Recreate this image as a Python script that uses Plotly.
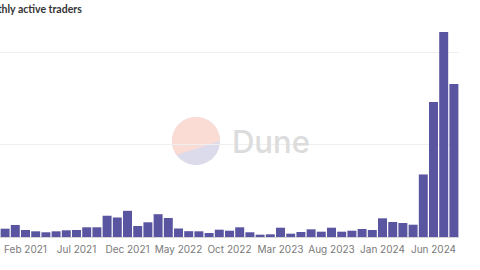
import numpy as np
import plotly.graph_objects as go

months = ["Dec 2020", "Jan 2021", "Feb 2021", "Mar 2021", "Apr 2021", "May 2021", "Jun 2021",
          "Jul 2021", "Aug 2021", "Sep 2021", "Oct 2021", "Nov 2021", "Dec 2021",
          "Jan 2022", "Feb 2022", "Mar 2022", "Apr 2022", "May 2022", "Jun 2022",
          "Jul 2022", "Aug 2022", "Sep 2022", "Oct 2022", "Nov 2022", "Dec 2022",
          "Jan 2023", "Feb 2023", "Mar 2023", "Apr 2023", "May 2023", "Jun 2023",
          "Jul 2023", "Aug 2023", "Sep 2023", "Oct 2023", "Nov 2023", "Dec 2023",
          "Jan 2024", "Feb 2024", "Mar 2024", "Apr 2024", "May 2024", "Jun 2024",
          "Jul 2024", "Aug 2024"]
traders = [900, 1300, 760, 615, 510, 615, 725, 760, 1050, 1050, 2300, 2110, 2830,
           1190, 1590, 2465, 2055, 920, 630, 615, 430, 790, 680, 1050, 510,
           250, 290, 1005, 360, 540, 830, 575, 1005, 575, 680, 865, 760,
           2020, 1620, 1515, 1330, 6760, 14600, 22160, 16540]
tick_labels = ["Feb 2021", "Jul 2021", "Dec 2021", "May 2022", "Oct 2022",
               "Mar 2023", "Aug 2023", "Jan 2024", "Jun 2024"]

W, H = 480, 270
ML, MR, MT, MB = 0, 21, 22, 33
PW, PH = W - ML - MR, H - MT - MB


def px(x):
    return (x - ML) / PW


def py(y):
    return (H - MB - y) / PH


fig = go.Figure()
fig.add_trace(go.Bar(x=months, y=traders, marker=dict(color="#5a55a0", line=dict(width=0))))

shapes = []
# watermark backdrop
shapes.append(dict(type="rect", xref="paper", yref="paper", x0=px(167), x1=px(320), y0=py(166),
                   y1=py(114), fillcolor="white", line=dict(width=0), layer="between"))
cx, cy, r = 196, 141, 24
ang = np.linspace(0, 2 * np.pi, 80)
circ = "M " + " L ".join(f"{px(cx + r*np.cos(a)):.5f},{py(cy + r*np.sin(a)):.5f}" for a in ang) + " Z"
shapes.append(dict(type="path", xref="paper", yref="paper", path=circ, fillcolor="#dcdbec",
                   line=dict(width=0), layer="between"))
# pink upper part: above chord from (175,156) to (220,141), screen coords (y down)
a1 = np.arctan2(156 - cy, 175 - cx)
a2 = np.arctan2(141 - cy, 220 - cx)
if a2 < a1:
    a2 += 2 * np.pi
arc = np.linspace(a1, a2, 80)
pts = [(cx + r*np.cos(a), cy + r*np.sin(a)) for a in arc]
pink = "M " + " L ".join(f"{px(x):.5f},{py(y):.5f}" for x, y in pts) + " Z"
shapes.append(dict(type="path", xref="paper", yref="paper", path=pink, fillcolor="#fbdcd4",
                   line=dict(width=0), layer="between"))

fig.update_layout(
    width=W, height=H, margin=dict(l=ML, r=MR, t=MT, b=MB, autoexpand=False),
    paper_bgcolor="white", plot_bgcolor="white", showlegend=False, bargap=0.12,
    shapes=shapes,
    annotations=[
        dict(text="<b>Monthly active traders</b>", xref="paper", yref="paper", x=px(-26), y=py(9),
             xanchor="left", yanchor="middle", showarrow=False,
             font=dict(family="Lato", size=10.5, color="#333333")),
        dict(text="Dune", xref="paper", yref="paper", x=px(230), y=py(141),
             xanchor="left", yanchor="middle", showarrow=False,
             font=dict(family="Inter", size=31, color="#dcdcdc", weight=500)),
    ],
    xaxis=dict(type="category", range=[-0.5, len(months) - 0.5], tickmode="array",
               tickvals=tick_labels, ticktext=tick_labels, showgrid=False, ticks="",
               tickangle=0, automargin=False, ticklabelstandoff=3,
               showline=True, linecolor="#d4d4d4", linewidth=1,
               tickfont=dict(family="Inter", size=10, color="#7a7a7a")),
    yaxis=dict(range=[0, PH / 92.5 * 10000], dtick=10000, showticklabels=False,
               gridcolor="#efefef", gridwidth=1, zeroline=False, showline=False,
               automargin=False),
)
fig.write_html("out.html")
